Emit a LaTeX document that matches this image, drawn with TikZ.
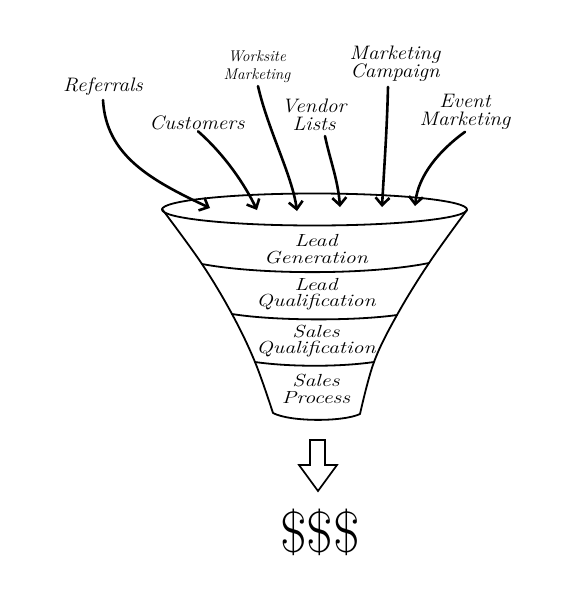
\documentclass[tikz,border=0pt]{standalone}
\usepackage{fontspec}
\usepackage{graphicx}
\usetikzlibrary{arrows.meta}
\newcommand{\hw}[2][1.08]{\scalebox{#1}[1]{#2}}
\begin{document}
\begin{tikzpicture}[x=1pt,y=-1pt,
  lbl/.style={font=\fontsize{19.5}{18}\selectfont\itshape, align=center, inner sep=0pt},
  inlbl/.style={font=\fontsize{17.5}{16.5}\selectfont\itshape, align=center, inner sep=0pt},
  feed/.style={line width=2.6pt, line cap=round, line join=round, -{Straight Barb[length=7.5pt,width=14pt]}},
  funnelline/.style={line width=1.8pt, line join=round, line cap=round}]
\useasboundingbox (0,0) rectangle (574,600);

% labels
\node[lbl] (ref) at (103,87) {\hw{Referrals}};
\node[lbl] (cus) at (197,123) {\hw{Customers}};
\node[lbl, font=\fontsize{15.5}{18}\selectfont\itshape] (wor) at (257,67) {Worksite\\Marketing};
\node[lbl] (ven) at (314,115) {\hw{Vendor}\\\hw{Lists}};
\node[lbl] (cam) at (395,64) {\hw{Marketing}\\\hw{Campaign}};
\node[lbl] (eve) at (465,112) {\hw{Event}\\\hw{Marketing}};

% funnel geometry
\coordinate (L0) at (162,209); \coordinate (R0) at (467,210);
\coordinate (L1) at (202,264); \coordinate (R1) at (429,263);
\coordinate (L2) at (232,314); \coordinate (R2) at (397,315);
\coordinate (L3) at (255,362); \coordinate (R3) at (374,362);
\coordinate (L4) at (273,413); \coordinate (R4) at (360,414);

\draw[funnelline] (314.5,209.5) ellipse [x radius=152.5pt, y radius=16pt];
\draw[funnelline] plot[smooth, tension=0.6] coordinates {(L0) (L1) (L2) (L3) (L4)};
\draw[funnelline] plot[smooth, tension=0.6] coordinates {(R0) (R1) (R2) (R3) (R4)};
\draw[funnelline] (L1) .. controls (260,275) and (370,275) .. (R1);
\draw[funnelline] (L2) .. controls (275,321) and (355,321) .. (R2);
\draw[funnelline] (L3) .. controls (290,367) and (340,367) .. (R3);
\draw[funnelline] (L4) .. controls (290,422) and (343,422) .. (R4);

% funnel texts
\node[inlbl] (g1) at (316,249) {\hw[1.25]{Lead}\\\hw[1.25]{Generation}};
\node[inlbl] (g2) at (316,294) {\hw[1.25]{Lead}\\\hw[1.25]{Qualification}};
\node[inlbl] (g3) at (316,341) {\hw[1.25]{Sales}\\\hw[1.25]{Qualification}};
\node[inlbl] (g4) at (316,389) {\hw[1.25]{Sales}\\\hw[1.25]{Process}};

% arrow tips
\coordinate (t1) at (210,208);
\coordinate (t2) at (257,210);
\coordinate (t3) at (297,211);
\coordinate (t4) at (340,207);
\coordinate (t5) at (382,207);
\coordinate (t6) at (415,206);

\draw[feed] ([yshift=-4pt]ref.south) .. controls (106,155) and (150,180) .. (t1);
\draw[feed] ([xshift=1pt,yshift=-1pt]cus.south) .. controls (225,155) and (245,185) .. (t2);
\draw[feed] ([xshift=1pt,yshift=-3pt]wor.south) .. controls (268,130) and (292,175) .. (t3);
\draw[feed] ([xshift=11pt,yshift=-5pt]ven.south) .. controls (330,160) and (338,180) .. (t4);
\draw[feed] ([xshift=-7pt,yshift=-5pt]cam.south) .. controls (387,130) and (384,170) .. (t5);
\draw[feed] ([yshift=-2pt]eve.south) .. controls (440,150) and (418,175) .. (t6);

% hollow arrow
\draw[line width=1.7pt, line join=miter] (310,440) -- (325,440) -- (325,465) -- (337,465) -- (318,491) -- (299,465) -- (310,465) -- cycle;

% dollars
\node[inner sep=0pt, font=\fontsize{58}{60}\selectfont] (usd) at (320,532) {\$\$\$};
\end{tikzpicture}
\end{document}
